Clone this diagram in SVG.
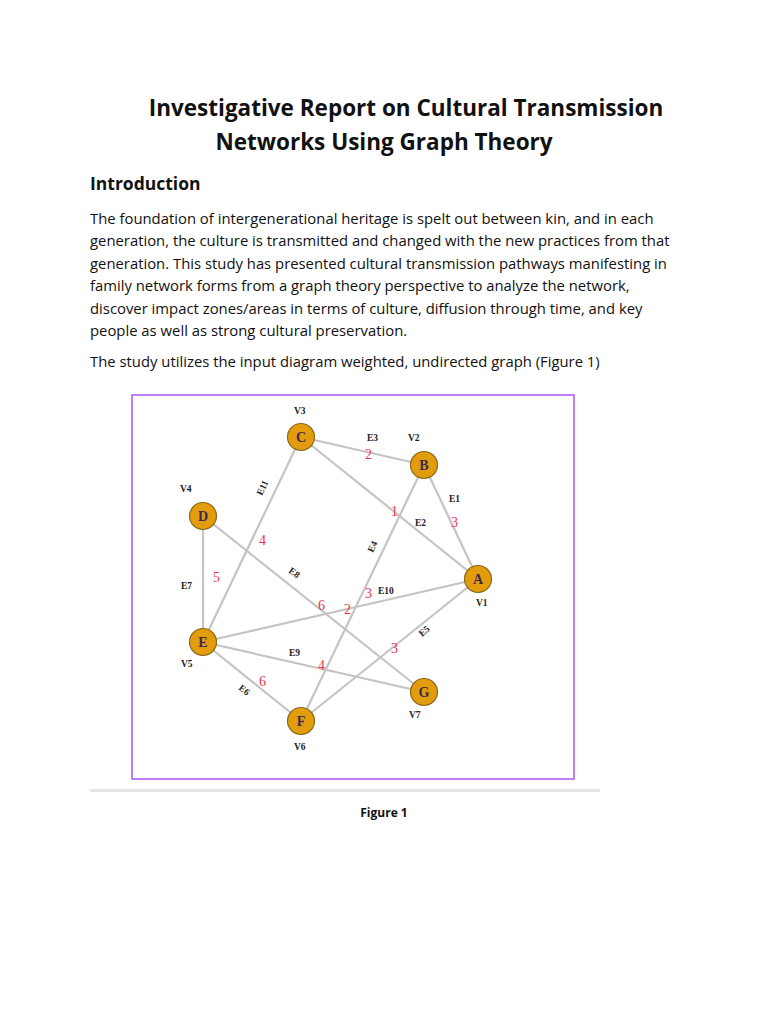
<svg xmlns="http://www.w3.org/2000/svg" width="768" height="1024" viewBox="0 0 768 1024">
<style>
.t{font-family:"Open Sans","Liberation Sans",sans-serif;fill:#111}
.h{font-weight:bold;font-size:22.5px}
.b{font-size:14.85px}
.e{stroke:#c4c4c4;stroke-width:2.2;fill:none}
.n circle{fill:#e39c0b;stroke:#8a6a1a;stroke-width:1.2}
.n text{font-family:"Liberation Serif",serif;font-weight:bold;font-size:14px;fill:#3a2a55;text-anchor:middle}
.l{font-family:"Liberation Serif",serif;font-size:9.5px;font-weight:bold;fill:#222}
.w{font-family:"Liberation Serif",serif;font-size:14px;fill:#f0344a}
</style>
<rect width="768" height="1024" fill="#fff"/>
<text class="t h" x="406" y="116" text-anchor="middle">Investigative Report on Cultural Transmission</text>
<text class="t h" x="384" y="150" text-anchor="middle">Networks Using Graph Theory</text>
<text class="t" x="90" y="190" font-size="17.5" font-weight="bold">Introduction</text>
<g class="t b">
<text x="90" y="224">The foundation of intergenerational heritage is spelt out between kin, and in each</text>
<text x="90" y="246">generation, the culture is transmitted and changed with the new practices from that</text>
<text x="90" y="269">generation. This study has presented cultural transmission pathways manifesting in</text>
<text x="90" y="291">family network forms from a graph theory perspective to analyze the network,</text>
<text x="90" y="314">discover impact zones/areas in terms of culture, diffusion through time, and key</text>
<text x="90" y="336">people as well as strong cultural preservation.</text>
<text x="90" y="367">The study utilizes the input diagram weighted, undirected graph (Figure 1)</text>
</g>
<rect x="132" y="395" width="442" height="384" fill="#fff" stroke="#a855f7" stroke-width="1.5"/>
<g id="edges">
<line class="e" x1="301" y1="437" x2="424" y2="465"/>
<line class="e" x1="301" y1="437" x2="478" y2="579"/>
<line class="e" x1="424" y1="465" x2="478" y2="579"/>
<line class="e" x1="424" y1="465" x2="301" y2="721"/>
<line class="e" x1="301" y1="437" x2="203" y2="642"/>
<line class="e" x1="203" y1="516" x2="203" y2="642"/>
<line class="e" x1="203" y1="516" x2="424" y2="692"/>
<line class="e" x1="203" y1="642" x2="478" y2="579"/>
<line class="e" x1="203" y1="642" x2="424" y2="692"/>
<line class="e" x1="203" y1="642" x2="301" y2="721"/>
<line class="e" x1="301" y1="721" x2="478" y2="579"/>
</g>
<g id="labels">
<text class="l" x="367" y="441">E3</text>
<text class="w" x="365" y="459">2</text>
<text class="l" x="449" y="502">E1</text>
<text class="w" x="451" y="527">3</text>
<text class="l" x="415" y="526">E2</text>
<text class="w" x="391" y="516">1</text>
<text class="l" x="0" y="0" transform="translate(262,496) rotate(-65)">E11</text>
<text class="w" x="259" y="545">4</text>
<text class="l" x="0" y="0" transform="translate(373,553) rotate(-65)">E4</text>
<text class="l" x="0" y="0" transform="translate(288,572) rotate(35)">E8</text>
<text class="l" x="181" y="589">E7</text>
<text class="w" x="213" y="582">5</text>
<text class="w" x="365" y="598">3</text>
<text class="l" x="378" y="594">E10</text>
<text class="w" x="318" y="610">6</text>
<text class="w" x="344" y="614">2</text>
<text class="l" x="0" y="0" transform="translate(422,637) rotate(-40)">E5</text>
<text class="w" x="391" y="653">3</text>
<text class="l" x="289" y="656">E9</text>
<text class="w" x="318" y="670">4</text>
<text class="w" x="259" y="686">6</text>
<text class="l" x="0" y="0" transform="translate(238,689) rotate(38)">E6</text>
<text class="l" x="294" y="414">V3</text>
<text class="l" x="408" y="441">V2</text>
<text class="l" x="180" y="492">V4</text>
<text class="l" x="476" y="606">V1</text>
<text class="l" x="181" y="667">V5</text>
<text class="l" x="409" y="718">V7</text>
<text class="l" x="294" y="750">V6</text>
</g>
<g id="A" class="n"><circle cx="478" cy="579" r="13.5"/><text x="478" y="584">A</text></g>
<g id="B" class="n"><circle cx="424" cy="465" r="13.5"/><text x="424" y="470">B</text></g>
<g id="C" class="n"><circle cx="301" cy="437" r="13.5"/><text x="301" y="442">C</text></g>
<g id="D" class="n"><circle cx="203" cy="516" r="13.5"/><text x="203" y="521">D</text></g>
<g id="E" class="n"><circle cx="203" cy="642" r="13.5"/><text x="203" y="647">E</text></g>
<g id="F" class="n"><circle cx="301" cy="721" r="13.5"/><text x="301" y="726">F</text></g>
<g id="G" class="n"><circle cx="424" cy="692" r="13.5"/><text x="424" y="697">G</text></g>
<rect x="90" y="789" width="510" height="3" fill="#e5e5e5"/>
<text class="t" x="384" y="817" font-size="12" font-weight="bold" text-anchor="middle">Figure 1</text>
</svg>
